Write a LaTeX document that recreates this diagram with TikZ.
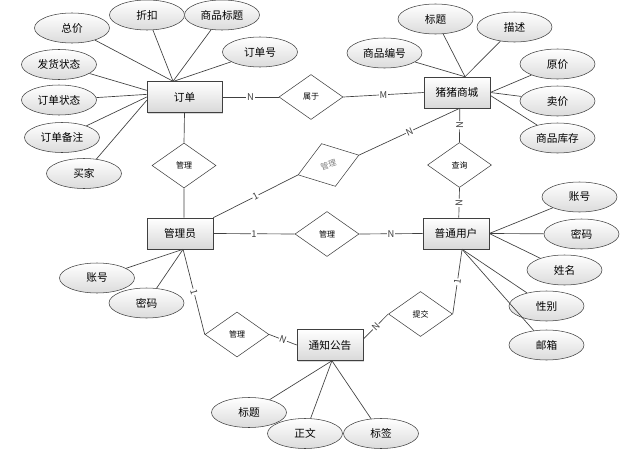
\documentclass[tikz,border=0pt]{standalone}
\usepackage{fontspec}
\setmainfont{Noto Sans CJK SC}
\usepackage{tikz}
\usepackage{xcolor}
\usetikzlibrary{shapes.geometric,shadows}

\definecolor{linegray}{HTML}{404040}

\begin{document}
\begin{tikzpicture}[x=0.75pt,y=-0.75pt]
\tikzset{entity/.style={draw=linegray,rectangle,top color=white,bottom color=gray!30,drop shadow={shadow xshift=1pt,shadow yshift=-1pt,opacity=0.3},minimum width=49.5pt,minimum height=23.25pt,inner sep=0pt,font=\fontsize{8}{8}\selectfont}}
\tikzset{attr/.style={draw=linegray,ellipse,top color=white,bottom color=gray!28,minimum width=56.25pt,minimum height=22.5pt,inner sep=0pt,font=\fontsize{8}{8}\selectfont}}
\tikzset{rel/.style={draw=linegray,diamond,fill=white,minimum width=48pt,minimum height=33.75pt,inner sep=0pt,font=\fontsize{6}{6}\selectfont}}
\tikzset{card/.style={fill=white,inner sep=0.5pt,font=\fontsize{7}{7}\selectfont,text=linegray}}
\tikzset{link/.style={draw=linegray,line width=0.5pt}}

\useasboundingbox (0,0) rectangle (626,457);

\node[entity,minimum width=56.25pt] (dingdan) at (184.5,97) {订单};
\node[entity] (zzsc) at (457,92.5) {猪猪商城};
\node[entity] (gly) at (180,233.5) {管理员};
\node[entity] (ptyh) at (456,233.5) {普通用户};
\node[entity] (tzgg) at (330,345) {通知公告};

\node[rel] (shuyu) at (311,97) {属于};
\node[rel] (guanlia) at (184,165.5) {管理};
\node[rel,rotate=18,text=gray] (guanlib) at (328.5,165) {管理};
\node[rel] (chaxun) at (459.5,165) {查询};
\node[rel] (guanlic) at (327,234) {管理};
\node[rel] (tijiao) at (420.5,314) {提交};
\node[rel] (guanlid) at (237,334.5) {管理};

\node[attr] (zongjia) at (72,28) {总价};
\node[attr] (zhekou) at (147,15) {折扣};
\node[attr] (spbt) at (222,15) {商品标题};
\node[attr] (ddh) at (260,52) {订单号};
\node[attr] (fhzt) at (59,64.5) {发货状态};
\node[attr] (ddzt) at (59,100) {订单状态};
\node[attr] (ddbz) at (62,137.5) {订单备注};
\node[attr] (maijia) at (84,173.5) {买家};

\node[attr] (biaotia) at (435.5,19) {标题};
\node[attr] (miaoshu) at (514.5,27) {描述};
\node[attr] (spbh) at (384.5,53) {商品编号};
\node[attr] (yuanjia) at (557.5,64) {原价};
\node[attr] (shoujia) at (557.5,101) {卖价};
\node[attr] (spkc) at (557.5,138) {商品库存};

\node[attr] (zhanghaoa) at (97,278) {账号};
\node[attr] (mimaa) at (146.5,303) {密码};

\node[attr] (zhanghaob) at (579.5,197) {账号};
\node[attr] (mimab) at (581.5,234) {密码};
\node[attr] (xingming) at (564.5,270) {姓名};
\node[attr] (xingbie) at (546.5,306) {性别};
\node[attr] (youxiang) at (546.5,345) {邮箱};

\node[attr] (biaotib) at (249,412.5) {标题};
\node[attr] (zhengwen) at (305,433.5) {正文};
\node[attr] (biaoqian) at (381,433.5) {标签};

\draw[link] (zongjia) -- (dingdan.126);
\draw[link] (zhekou) -- (dingdan.126);
\draw[link] (spbt) -- (dingdan.126);
\draw[link] (ddh) -- (dingdan.124);
\draw[link] (fhzt) -- (dingdan.170);
\draw[link] (ddzt) -- (dingdan.176);
\draw[link] (ddbz) -- (dingdan.180);
\draw[link] (maijia) -- (dingdan.185);

\draw[link] (biaotia) -- (zzsc.63);
\draw[link] (miaoshu) -- (zzsc.63);
\draw[link] (spbh) -- (zzsc.63);
\draw[link] (yuanjia) -- (zzsc.east);
\draw[link] (shoujia) -- (zzsc.east);
\draw[link] (spkc) -- (zzsc.-5);

\draw[link] (zhanghaoa) -- (gly.-79);
\draw[link] (mimaa) -- (gly.-79);

\draw[link] (zhanghaob) -- (ptyh.east);
\draw[link] (mimab) -- (ptyh.east);
\draw[link] (xingming) -- (ptyh.east);
\draw[link] (xingbie) -- (ptyh.-69);
\draw[link] (youxiang) -- (ptyh.-69);

\draw[link] (biaotib) -- (tzgg.-83);
\draw[link] (zhengwen) -- (tzgg.-83);
\draw[link] (biaoqian) -- (tzgg.-83);

\draw[link] (dingdan.east) -- node[card] {N} (shuyu.west);
\draw[link] (shuyu.east) -- node[card] {M} (zzsc.west);
\draw[link] (dingdan.south) -- (guanlia.north);
\draw[link] (guanlia.south) -- (gly.76);
\draw[link] (gly.north east) -- node[card,sloped] {1} (guanlib.west);
\draw[link] (guanlib.east) -- node[card,sloped] {N} (zzsc.-80);
\draw[link] (zzsc.-80) -- node[card,sloped] {N} (chaxun.north);
\draw[link] (chaxun.south) -- node[card,sloped] {N} (ptyh.80);
\draw[link] (gly.east) -- node[card] {1} (guanlic.west);
\draw[link] (guanlic.east) -- node[card] {N} (ptyh.west);
\draw[link] (gly.-79) -- node[card,sloped] {1} (guanlid.west);
\draw[link] (guanlid.east) -- node[card,sloped] {N} (tzgg.west);
\draw[link] (tzgg.10) -- node[card,sloped] {N} (tijiao.west);
\draw[link] (tijiao.east) -- node[card,sloped] {1} (ptyh.-69);

\end{tikzpicture}
\end{document}
